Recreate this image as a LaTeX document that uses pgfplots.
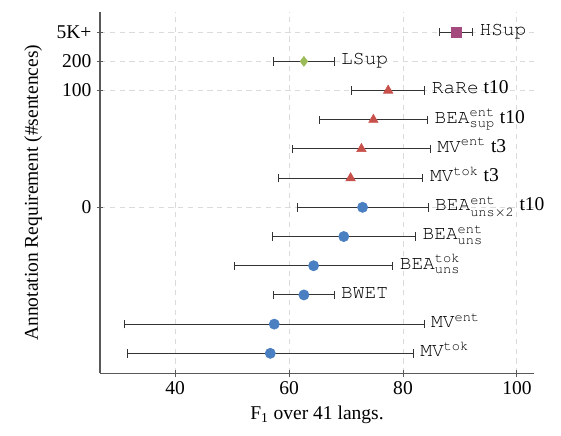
\documentclass[border=0pt]{standalone}
\usepackage[T1]{fontenc}
\usepackage{fontspec}
\usepackage{amsmath}
\setmainfont{Liberation Serif}
\newcommand\cour{\fontencoding{T1}\fontfamily{pcr}\selectfont}
\usepackage{pgfplots}
\pgfplotsset{compat=1.18}
\definecolor{cblue}{HTML}{4A7FC1}
\definecolor{cred}{HTML}{C8504B}
\definecolor{cgreen}{HTML}{9BBB59}
\definecolor{cpurple}{HTML}{A44A7F}
\begin{document}
\begin{tikzpicture}[font=\fontsize{13}{15}\selectfont]
\begin{axis}[
  scale only axis, width=289pt, height=240.7pt,
  xmin=26.8, xmax=103,
  ymin=-0.69, ymax=11.69,
  xtick={40,60,80,100},
  ytick={5,9,10,11}, yticklabels={0,100,200,5K+},
  axis lines=left,
  axis line style={-, draw=black!65, line width=0.8pt},
  tick style={black!65, line width=0.6pt},
  grid=major,
  grid style={dash pattern=on 3.5pt off 3pt, black!14, line width=0.6pt},
  xlabel={F\textsubscript{1} over 41 langs.},
  ylabel={Annotation Requirement (\#sentences)},
  every axis y label/.style={at={(axis description cs:-0.154,0.5)}, rotate=90, anchor=center},
  every axis x label/.style={at={(axis description cs:0.5,-0.1136)}, anchor=center},
  tick label style={font=\fontsize{13}{15}\selectfont},
  label style={font=\fontsize{13}{15}\selectfont},
  /pgf/number format/assume math mode=true,
  clip=false,
  ebar/.style={only marks, error bars/x dir=both, error bars/x explicit,
    error bars/error bar style={line width=0.65pt, black!80},
    error bars/error mark options={rotate=90, mark size=2.8pt, line width=0.65pt, black!80}},
]
\addplot[ebar, mark=*, mark size=3.4pt, mark options={fill=cblue, draw=cblue}] coordinates {
  (56.7,0) +- (25.1,0)
  (57.4,1) +- (26.3,0)
  (62.6,2) +- (5.3,0)
  (64.3,3) +- (13.9,0)
  (69.6,4) +- (12.6,0)
  (72.9,5) +- (11.5,0)
};
\addplot[ebar, mark=triangle*, mark size=3.6pt, mark options={fill=cred, draw=cred}] coordinates {
  (70.8,6) +- (12.7,0)
  (72.7,7) +- (12.1,0)
  (74.8,8) +- (9.5,0)
  (77.4,9) +- (6.45,0)
};
\addplot[ebar, mark=diamond*, mark size=3.3pt, mark options={fill=cgreen, draw=cgreen}] coordinates {
  (62.6,10) +- (5.3,0)
};
\addplot[ebar, mark=square*, mark size=3.3pt, mark options={fill=cpurple, draw=cpurple}] coordinates {
  (89.3,11) +- (2.9,0)
};
\tikzset{lbl/.style={anchor=mid west, inner sep=0pt, xshift=4.5pt, font=\fontsize{13}{15}\selectfont}}
\node[lbl] at (axis cs:92.2,11) {{\cour HSup}};
\node[lbl] at (axis cs:67.9,10) {{\cour LSup}};
\node[lbl] at (axis cs:83.85,9) {{\cour RaRe} t10};
\node[lbl] at (axis cs:84.3,8) {{\cour BEA}$^{\text{\cour ent}}_{\text{\cour sup}}$ t10};
\node[lbl] at (axis cs:84.8,7) {{\cour MV}$^{\text{\cour ent}}$ t3};
\node[lbl] at (axis cs:83.5,6) {{\cour MV}$^{\text{\cour tok}}$ t3};
\node[lbl] at (axis cs:84.4,5) {{\cour BEA}$^{\text{\cour ent}}_{\text{\cour uns$\times$2}}$ t10};
\node[lbl] at (axis cs:82.2,4) {{\cour BEA}$^{\text{\cour ent}}_{\text{\cour uns}}$};
\node[lbl] at (axis cs:78.2,3) {{\cour BEA}$^{\text{\cour tok}}_{\text{\cour uns}}$};
\node[lbl] at (axis cs:67.9,2) {{\cour BWET}};
\node[lbl] at (axis cs:83.7,1) {{\cour MV}$^{\text{\cour ent}}$};
\node[lbl] at (axis cs:81.8,0) {{\cour MV}$^{\text{\cour tok}}$};
\coordinate (bbA) at (axis description cs:-0.2304,-0.1717);
\coordinate (bbB) at (axis description cs:1.0622,1.0332);
\end{axis}
\pgfresetboundingbox
\path (bbA) rectangle (bbB);
\end{tikzpicture}
\end{document}
